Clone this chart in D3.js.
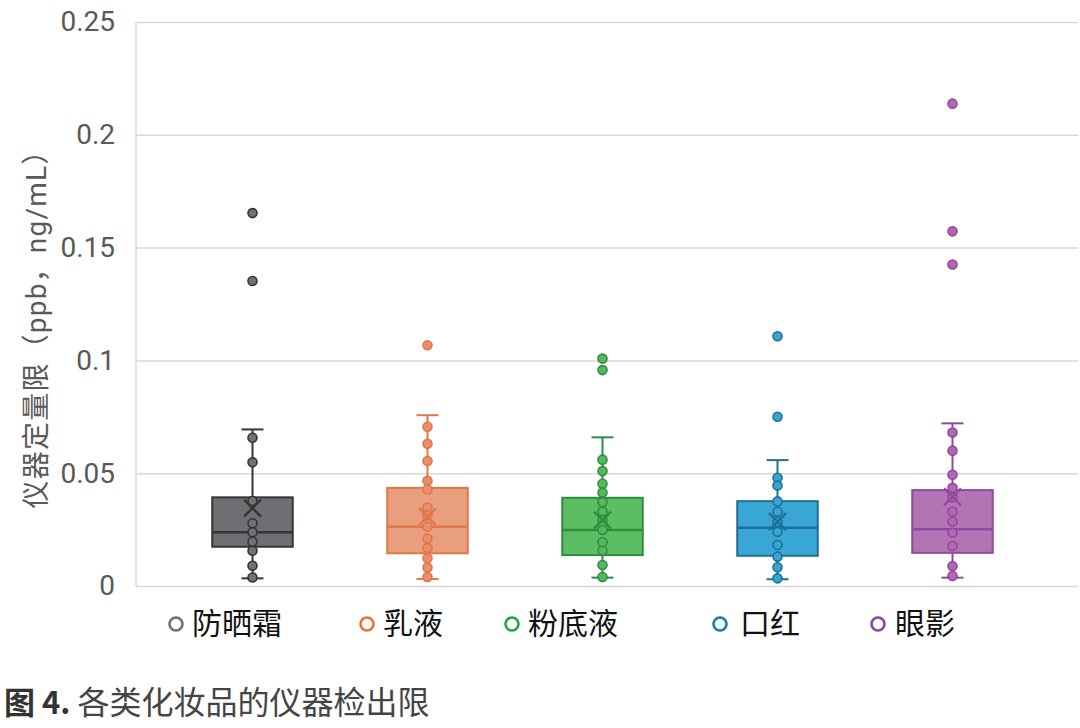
<!DOCTYPE html>
<html><head><meta charset="utf-8">
<script src="https://cdn.jsdelivr.net/npm/d3@7"></script>
<style>
html,body{margin:0;padding:0;background:#fff;}
svg{display:block;font-family:Roboto,"Noto Sans CJK SC",sans-serif;}
</style></head>
<body><svg id="c" width="1080" height="728"></svg>
<script>
// ---- data ----
const categories = ["防晒霜", "乳液", "粉底液", "口红", "眼影"];
const sunscreen  = [0.1653, 0.1352, 0.0657, 0.0548, 0.0377, 0.0278, 0.0238, 0.0196, 0.0156, 0.0090, 0.0038];
const lotion     = [0.1067, 0.0706, 0.0630, 0.0554, 0.0466, 0.0428, 0.0348, 0.0314, 0.0264, 0.0210, 0.0168, 0.0123, 0.0082, 0.0040];
const foundation = [0.1008, 0.0957, 0.0560, 0.0510, 0.0453, 0.0414, 0.0371, 0.0330, 0.0292, 0.0270, 0.0248, 0.0194, 0.0156, 0.0093, 0.0040];
const lipstick   = [0.1107, 0.0750, 0.0480, 0.0445, 0.0375, 0.0329, 0.0285, 0.0240, 0.0182, 0.0130, 0.0083, 0.0034];
const eyeshadow  = [0.2138, 0.1572, 0.1425, 0.0680, 0.0600, 0.0493, 0.0435, 0.0393, 0.0330, 0.0286, 0.0236, 0.0177, 0.0088, 0.0044];
const seriesValues = [sunscreen, lotion, foundation, lipstick, eyeshadow];
const q1          = [0.0174, 0.0145, 0.0137, 0.0134, 0.0147];
const median      = [0.0238, 0.0263, 0.0248, 0.0258, 0.0251];
const q3          = [0.0393, 0.0435, 0.0391, 0.0376, 0.0425];
const whiskerLow  = [0.0034, 0.0031, 0.0037, 0.0030, 0.0037];
const whiskerHigh = [0.0694, 0.0757, 0.0659, 0.0558, 0.0721];
const mean        = [0.0345, 0.0307, 0.0292, 0.0285, 0.0395];
const tickValues  = [0, 0.05, 0.1, 0.15, 0.2, 0.25];
const tickLabels  = ["0", "0.05", "0.1", "0.15", "0.2", "0.25"];
const yTitle = "仪器定量限（ppb，ng/mL）";
const captionBold = "图 4.";
const captionText = " 各类化妆品的仪器检出限";

// ---- styles ----
const boxFill   = ["#6e6f73", "#e99f7d", "#5dbd63", "#3aa6d6", "#b275b4"];
const boxStroke = ["#353537", "#e0774a", "#2f8d42", "#1f6f96", "#93479f"];
const ptFill    = ["#707075", "#e98f69", "#55b95c", "#38a4d4", "#ae69b1"];
const legendColor = ["#707070", "#f07030", "#1aa84a", "#1a78c8", "#8a44a8"];
const legendX = [176, 367, 512, 720, 878];
const legendGap = [16, 16, 16, 20, 17];

const svg = d3.select("#c");
const plotL = 136, plotR = 1078, plotT = 22, plotB = 586;

const y = d3.scaleLinear().domain([0, 0.25]).range([plotB, plotT]);
const x = d3.scaleBand().domain(categories).range([165, 1040]).paddingInner(0.54).paddingOuter(0.27);

// grid + y axis
const yAxis = d3.axisLeft(y).tickValues(tickValues)
  .tickFormat((d, i) => tickLabels[i]).tickSize(-(plotR - plotL)).tickPadding(21);
const gy = svg.append("g").attr("transform", `translate(${plotL},0)`).call(yAxis);
gy.select(".domain").remove();
gy.selectAll(".tick line").attr("stroke", "#d9d9d9").attr("stroke-width", 1.5);
gy.selectAll(".tick text").attr("fill", "#595959").attr("font-size", 28)
  .attr("font-family", "Roboto, sans-serif");
svg.append("line").attr("x1", plotL).attr("x2", plotL).attr("y1", plotT).attr("y2", plotB)
  .attr("stroke", "#d9d9d9").attr("stroke-width", 1.5);

// boxes
categories.forEach((cat, i) => {
  const g = svg.append("g");
  const bw = x.bandwidth();
  const x0 = x(cat), cx = x0 + bw / 2;
  const sc = boxStroke[i];
  g.append("line").attr("x1", cx).attr("x2", cx).attr("y1", y(q3[i])).attr("y2", y(whiskerHigh[i]))
    .attr("stroke", sc).attr("stroke-width", 2);
  g.append("line").attr("x1", cx).attr("x2", cx).attr("y1", y(q1[i])).attr("y2", y(whiskerLow[i]))
    .attr("stroke", sc).attr("stroke-width", 2);
  [whiskerHigh[i], whiskerLow[i]].forEach(v => {
    g.append("line").attr("x1", cx - 11).attr("x2", cx + 11).attr("y1", y(v)).attr("y2", y(v))
      .attr("stroke", sc).attr("stroke-width", 2);
  });
  g.append("rect").attr("x", x0).attr("width", bw)
    .attr("y", y(q3[i])).attr("height", y(q1[i]) - y(q3[i]))
    .attr("fill", boxFill[i]).attr("stroke", sc).attr("stroke-width", 2);
  g.append("line").attr("x1", x0).attr("x2", x0 + bw).attr("y1", y(median[i])).attr("y2", y(median[i]))
    .attr("stroke", sc).attr("stroke-width", 2.5);
  g.selectAll("circle").data(seriesValues[i]).join("circle")
    .attr("cx", cx).attr("cy", d => y(d)).attr("r", 4.5)
    .attr("fill", ptFill[i]).attr("stroke", sc).attr("stroke-width", 1.6);
  const my = y(mean[i]), s = 8.5;
  g.append("path").attr("d", `M${cx - s},${my - s}L${cx + s},${my + s}M${cx - s},${my + s}L${cx + s},${my - s}`)
    .attr("stroke", sc).attr("stroke-width", 2.4).attr("fill", "none");
});

// y title
svg.append("text").attr("transform", `translate(46,322) rotate(-90)`)
  .attr("text-anchor", "middle").attr("fill", "#595959").attr("font-size", 28)
  .attr("letter-spacing", 1.2)
  .text(yTitle);

// legend
const lg = svg.append("g");
categories.forEach((cat, i) => {
  lg.append("circle").attr("cx", legendX[i]).attr("cy", 624).attr("r", 6.5)
    .attr("fill", "none").attr("stroke", legendColor[i]).attr("stroke-width", 2.6);
  lg.append("text").attr("x", legendX[i] + legendGap[i]).attr("y", 634).attr("font-size", 30)
    .attr("fill", "#111").attr("font-family", "'Noto Sans CJK SC', sans-serif").text(cat);
});

// caption
const cap = svg.append("text").attr("x", 4).attr("y", 714).attr("font-size", 31)
  .attr("fill", "#333").attr("font-family", "'Noto Sans CJK SC', sans-serif");
cap.append("tspan").attr("font-weight", "bold").text(captionBold);
cap.append("tspan").attr("fill", "#444").attr("font-size", 32).text(captionText);
</script></body></html>
